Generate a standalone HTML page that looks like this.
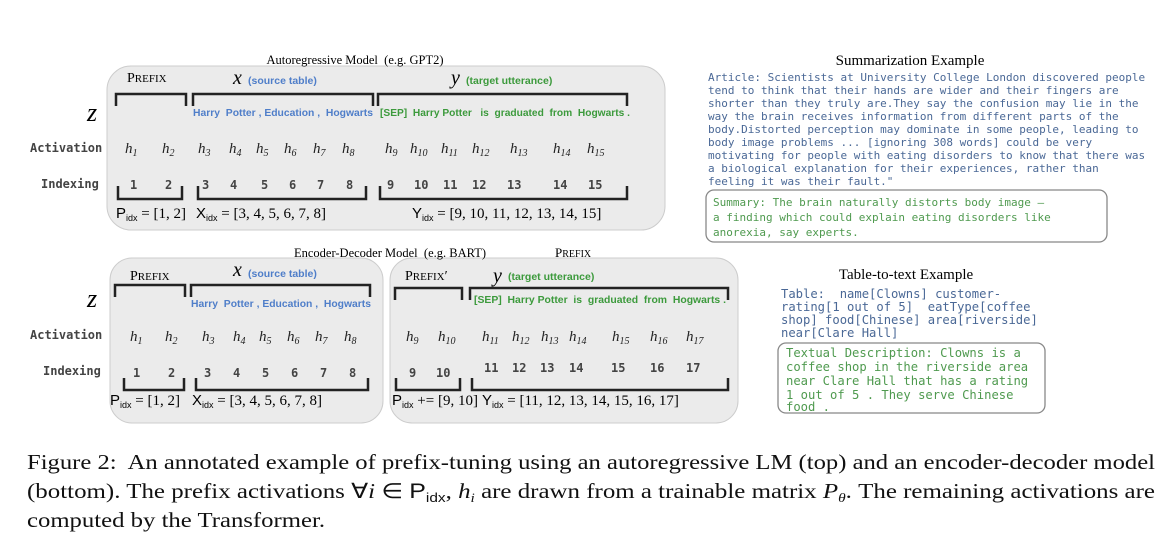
<!DOCTYPE html>
<html><head><meta charset="utf-8"><style>
body{margin:0;background:#fff;}
svg text{white-space:pre;}
.m{font-family:"Liberation Serif",serif;}
.lab{font-family:"DejaVu Sans Mono","Liberation Mono",monospace;font-weight:bold;font-size:12px;fill:#444;}
.h{font-family:"Liberation Serif",serif;font-style:italic;font-size:15px;fill:#222;}
.n{font-family:"DejaVu Sans Mono","Liberation Mono",monospace;font-weight:bold;font-size:12px;fill:#444;}
.tk{font-family:"Liberation Sans",sans-serif;font-weight:bold;font-size:10.5px;}
.br{stroke:#222;stroke-width:2.5;fill:none;}
.art{font-family:"DejaVu Sans Mono","Liberation Mono",monospace;font-size:11px;fill:#4a6896;}
.tab{font-family:"DejaVu Sans Mono","Liberation Mono",monospace;font-size:12.2px;fill:#4a6896;}
.g{fill:#4f9a4f;}
</style></head><body>
<svg width="1175" height="543" xmlns="http://www.w3.org/2000/svg">
<rect x="107" y="66" width="558" height="164" rx="24" fill="#ebebeb" stroke="#ccc"/>
<rect x="110" y="258" width="273" height="165" rx="22" fill="#ebebeb" stroke="#ccc"/>
<rect x="390" y="258" width="348" height="165" rx="22" fill="#ebebeb" stroke="#ccc"/>

<text x="355" y="64" class="m" font-size="12.5" text-anchor="middle">Autoregressive Model  (e.g. GPT2)</text>
<text x="390" y="257" class="m" font-size="12.5" text-anchor="middle">Encoder-Decoder Model  (e.g. BART)</text>
<text x="555" y="257" class="m" font-size="13">P<tspan font-size="10">REFIX</tspan></text>

<!-- TOP -->
<text x="127" y="82" class="m" font-size="14">P<tspan font-size="11">REFIX</tspan></text>
<text x="233" y="84" class="m" font-style="italic" font-size="20">x</text>
<text x="248" y="84" class="tk" fill="#4f7ec9" font-weight="normal" font-size="9.5">(source table)</text>
<text x="451" y="84" class="m" font-style="italic" font-size="20">y</text>
<text x="466" y="84" class="tk" fill="#3c9a3c" font-weight="normal" font-size="9.5">(target utterance)</text>
<path class="br" d="M116,106 V94 H186 V106 M193,106 V94 H373 V106 M378,106 V94 H627 V106"/>
<text x="87" y="121" class="m" font-style="italic" font-size="26">z</text>
<text x="193" y="116" class="tk" fill="#4f7ec9" textLength="180" lengthAdjust="spacingAndGlyphs">Harry  Potter , Education ,  Hogwarts</text>
<text x="380" y="116" class="tk" fill="#3c9a3c" textLength="250" lengthAdjust="spacingAndGlyphs">[SEP]  Harry Potter   is  graduated  from  Hogwarts .</text>
<text x="30" y="152" class="lab">Activation</text>
<text x="41" y="188" class="lab">Indexing</text>
<g class="h">
<text x="125" y="153">h<tspan font-size="10" dy="3">1</tspan></text>
<text x="162" y="153">h<tspan font-size="10" dy="3">2</tspan></text>
<text x="198" y="153">h<tspan font-size="10" dy="3">3</tspan></text>
<text x="229" y="153">h<tspan font-size="10" dy="3">4</tspan></text>
<text x="256" y="153">h<tspan font-size="10" dy="3">5</tspan></text>
<text x="284" y="153">h<tspan font-size="10" dy="3">6</tspan></text>
<text x="313" y="153">h<tspan font-size="10" dy="3">7</tspan></text>
<text x="342" y="153">h<tspan font-size="10" dy="3">8</tspan></text>
<text x="385" y="153">h<tspan font-size="10" dy="3">9</tspan></text>
<text x="410" y="153">h<tspan font-size="10" dy="3">10</tspan></text>
<text x="441" y="153">h<tspan font-size="10" dy="3">11</tspan></text>
<text x="472" y="153">h<tspan font-size="10" dy="3">12</tspan></text>
<text x="510" y="153">h<tspan font-size="10" dy="3">13</tspan></text>
<text x="553" y="153">h<tspan font-size="10" dy="3">14</tspan></text>
<text x="587" y="153">h<tspan font-size="10" dy="3">15</tspan></text>
</g>
<g class="n">
<text x="130" y="189">1</text><text x="165" y="189">2</text><text x="202" y="189">3</text><text x="230" y="189">4</text><text x="261" y="189">5</text><text x="289" y="189">6</text><text x="317" y="189">7</text><text x="346" y="189">8</text><text x="387" y="189">9</text><text x="414" y="189">10</text><text x="443" y="189">11</text><text x="472" y="189">12</text><text x="507" y="189">13</text><text x="553" y="189">14</text><text x="588" y="189">15</text>
</g>
<path class="br" d="M118,186 V199 H182 V186 M198,186 V199 H366 V186 M380,186 V199 H627 V186"/>
<g class="m" font-size="15">
<text x="116" y="218"><tspan font-family="Liberation Sans">P</tspan><tspan font-family="Liberation Sans" font-size="9" dy="3">idx</tspan><tspan dy="-3"> = [1, 2]</tspan></text>
<text x="196" y="218"><tspan font-family="Liberation Sans">X</tspan><tspan font-family="Liberation Sans" font-size="9" dy="3">idx</tspan><tspan dy="-3"> = [3, 4, 5, 6, 7, 8]</tspan></text>
<text x="412" y="218"><tspan font-family="Liberation Sans">Y</tspan><tspan font-family="Liberation Sans" font-size="9" dy="3">idx</tspan><tspan dy="-3"> = [9, 10, 11, 12, 13, 14, 15]</tspan></text>
</g>

<!-- BOTTOM LEFT -->
<text x="130" y="280" class="m" font-size="14">P<tspan font-size="11">REFIX</tspan></text>
<text x="233" y="276" class="m" font-style="italic" font-size="20">x</text>
<text x="248" y="277" class="tk" fill="#4f7ec9" font-weight="normal" font-size="9.5">(source table)</text>
<path class="br" d="M115,297 V285 H185 V297 M191,297 V285 H370 V297"/>
<text x="87" y="307" class="m" font-style="italic" font-size="26">z</text>
<text x="191" y="307" class="tk" fill="#4f7ec9" textLength="180" lengthAdjust="spacingAndGlyphs">Harry  Potter , Education ,  Hogwarts</text>
<text x="30" y="339" class="lab">Activation</text>
<text x="43" y="375" class="lab">Indexing</text>
<g class="h">
<text x="130" y="341">h<tspan font-size="10" dy="3">1</tspan></text>
<text x="165" y="341">h<tspan font-size="10" dy="3">2</tspan></text>
<text x="202" y="341">h<tspan font-size="10" dy="3">3</tspan></text>
<text x="233" y="341">h<tspan font-size="10" dy="3">4</tspan></text>
<text x="259" y="341">h<tspan font-size="10" dy="3">5</tspan></text>
<text x="287" y="341">h<tspan font-size="10" dy="3">6</tspan></text>
<text x="315" y="341">h<tspan font-size="10" dy="3">7</tspan></text>
<text x="344" y="341">h<tspan font-size="10" dy="3">8</tspan></text>
</g>
<g class="n">
<text x="133" y="377">1</text><text x="168" y="377">2</text><text x="204" y="377">3</text><text x="233" y="377">4</text><text x="262" y="377">5</text><text x="291" y="377">6</text><text x="320" y="377">7</text><text x="349" y="377">8</text>
</g>
<path class="br" d="M124,378 V390 H184 V378 M196,378 V390 H368 V378"/>
<g class="m" font-size="15">
<text x="110" y="405"><tspan font-family="Liberation Sans">P</tspan><tspan font-family="Liberation Sans" font-size="9" dy="3">idx</tspan><tspan dy="-3"> = [1, 2]</tspan></text>
<text x="192" y="405"><tspan font-family="Liberation Sans">X</tspan><tspan font-family="Liberation Sans" font-size="9" dy="3">idx</tspan><tspan dy="-3"> = [3, 4, 5, 6, 7, 8]</tspan></text>
</g>

<!-- BOTTOM RIGHT -->
<text x="405" y="280" class="m" font-size="14">P<tspan font-size="11">REFIX</tspan>′</text>
<text x="493" y="282" class="m" font-style="italic" font-size="20">y</text>
<text x="508" y="280" class="tk" fill="#3c9a3c" font-weight="normal" font-size="9.5">(target utterance)</text>
<path class="br" d="M395,300 V288 H462 V300 M470,300 V288 H728 V300"/>
<text x="474" y="303" class="tk" fill="#3c9a3c" textLength="252" lengthAdjust="spacingAndGlyphs">[SEP]  Harry Potter  is  graduated  from  Hogwarts .</text>
<g class="h">
<text x="406" y="341">h<tspan font-size="10" dy="3">9</tspan></text>
<text x="438" y="341">h<tspan font-size="10" dy="3">10</tspan></text>
<text x="482" y="341">h<tspan font-size="10" dy="3">11</tspan></text>
<text x="512" y="341">h<tspan font-size="10" dy="3">12</tspan></text>
<text x="541" y="341">h<tspan font-size="10" dy="3">13</tspan></text>
<text x="569" y="341">h<tspan font-size="10" dy="3">14</tspan></text>
<text x="612" y="341">h<tspan font-size="10" dy="3">15</tspan></text>
<text x="650" y="341">h<tspan font-size="10" dy="3">16</tspan></text>
<text x="686" y="341">h<tspan font-size="10" dy="3">17</tspan></text>
</g>
<g class="n">
<text x="409" y="377">9</text><text x="436" y="377">10</text><text x="484" y="372">11</text><text x="512" y="372">12</text><text x="540" y="372">13</text><text x="569" y="372">14</text><text x="611" y="372">15</text><text x="650" y="372">16</text><text x="686" y="372">17</text>
</g>
<path class="br" d="M396,378 V390 H460 V378 M472,378 V390 H728 V378"/>
<g class="m" font-size="15">
<text x="392" y="405"><tspan font-family="Liberation Sans">P</tspan><tspan font-family="Liberation Sans" font-size="9" dy="3">idx</tspan><tspan dy="-3"> += [9, 10]</tspan></text>
<text x="482" y="405"><tspan font-family="Liberation Sans">Y</tspan><tspan font-family="Liberation Sans" font-size="9" dy="3">idx</tspan><tspan dy="-3"> = [11, 12, 13, 14, 15, 16, 17]</tspan></text>
</g>

<!-- Summarization -->
<text x="910" y="65" class="m" font-size="15" text-anchor="middle">Summarization Example</text>
<g class="art">
<text x="708" y="81">Article: Scientists at University College London discovered people</text>
<text x="708" y="94">tend to think that their hands are wider and their fingers are</text>
<text x="708" y="107">shorter than they truly are.They say the confusion may lie in the</text>
<text x="708" y="120">way the brain receives information from different parts of the</text>
<text x="708" y="133">body.Distorted perception may dominate in some people, leading to</text>
<text x="708" y="146">body image problems ... [ignoring 308 words] could be very</text>
<text x="708" y="159">motivating for people with eating disorders to know that there was</text>
<text x="708" y="172">a biological explanation for their experiences, rather than</text>
<text x="708" y="185">feeling it was their fault."</text>
</g>
<rect x="706" y="190" width="401" height="52" rx="8" fill="#fff" stroke="#888" stroke-width="1.3"/>
<g class="art" font-size="12">
<text x="713" y="206" class="g">Summary: The brain naturally distorts body image –</text>
<text x="713" y="221" class="g">a finding which could explain eating disorders like</text>
<text x="713" y="236" class="g">anorexia, say experts.</text>
</g>

<!-- Table to text -->
<text x="906" y="279" class="m" font-size="15" text-anchor="middle">Table-to-text Example</text>
<g class="tab">
<text x="781" y="298">Table:  name[Clowns] customer-</text>
<text x="781" y="311">rating[1 out of 5]  eatType[coffee</text>
<text x="781" y="324">shop] food[Chinese] area[riverside]</text>
<text x="781" y="337">near[Clare Hall]</text>
</g>
<rect x="778" y="343" width="267" height="70" rx="8" fill="#fff" stroke="#888" stroke-width="1.3"/>
<g class="tab">
<text x="786" y="357" class="g">Textual Description: Clowns is a</text>
<text x="786" y="371" class="g">coffee shop in the riverside area</text>
<text x="786" y="385" class="g">near Clare Hall that has a rating</text>
<text x="786" y="399" class="g">1 out of 5 . They serve Chinese</text>
<text x="786" y="411" class="g">food .</text>
</g>

<!-- caption -->
<g class="m" font-size="21" fill="#111">
<text x="27" y="469" textLength="1128" lengthAdjust="spacingAndGlyphs">Figure 2:  An annotated example of prefix-tuning using an autoregressive LM (top) and an encoder-decoder model</text>
<text x="27" y="498" textLength="1128" lengthAdjust="spacingAndGlyphs">(bottom). The prefix activations ∀<tspan font-style="italic">i</tspan> ∈ <tspan font-family="Liberation Sans">P</tspan><tspan font-family="Liberation Sans" font-size="13" dy="4">idx</tspan><tspan dy="-4">, </tspan><tspan font-style="italic">h<tspan font-size="13" dy="4">i</tspan></tspan><tspan dy="-4"> are drawn from a trainable matrix </tspan><tspan font-style="italic">P</tspan><tspan font-style="italic" font-size="13" dy="4">θ</tspan><tspan dy="-4">. The remaining activations are</tspan></text>
<text x="27" y="527" textLength="298" lengthAdjust="spacingAndGlyphs">computed by the Transformer.</text>
</g>
</svg>
</body></html>
